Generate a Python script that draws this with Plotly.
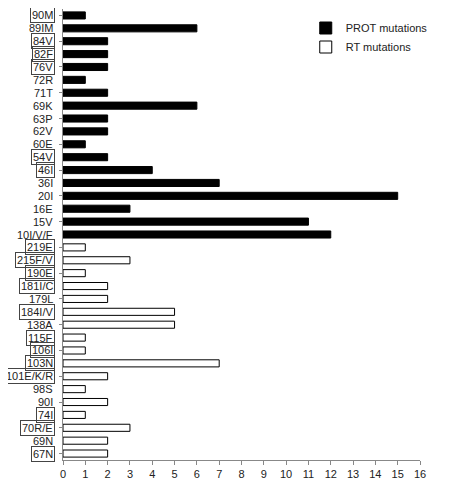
import plotly.graph_objects as go

cats = ["67N","69N","70R/E","74I","90I","98S","101E/K/R","103N","106I","115F","138A","184I/V","179L","181I/C","190E","215F/V","219E",
        "10I/V/F","15V","16E","20I","36I","46I","54V","60E","62V","63P","69K","71T","72R","76V","82F","84V","89IM","90M"]
rt_vals = [2,2,3,1,2,1,2,7,1,1,5,5,2,2,1,3,1]
prot_vals = [12,11,3,15,7,4,2,1,2,2,6,2,1,2,2,2,6,1]
boxed = {"90M","84V","82F","76V","54V","46I","219E","215F/V","190E","181I/C","184I/V","115F","106I","103N","101E/K/R","74I","70R/E","67N"}

rt_cats = cats[:17]
prot_cats = cats[17:]

fig = go.Figure()
fig.add_trace(go.Bar(y=prot_cats, x=prot_vals, orientation="h", name="PROT mutations",
                     marker=dict(color="black", line=dict(color="black", width=1)), width=0.55))
fig.add_trace(go.Bar(y=rt_cats, x=rt_vals, orientation="h", name="RT mutations",
                     marker=dict(color="white", line=dict(color="black", width=1)), width=0.55))

for c in cats:
    fig.add_annotation(x=-0.022, y=c, xref="paper", yref="y", text=c, showarrow=False, xanchor="right",
                       font=dict(size=11, color="#222"), bordercolor="#444" if c in boxed else "rgba(0,0,0,0)",
                       borderwidth=1, borderpad=1)
fig.add_annotation(x=16.1, y=1.2, xref="x", yref="y", text="Number of<br>viruses", showarrow=False,
                   xanchor="left", align="left", font=dict(size=11, color="#222"))

fig.update_layout(
    width=474, height=478, margin=dict(l=55, r=62, t=1, b=26),
    plot_bgcolor="white", paper_bgcolor="white", barmode="overlay",
    font=dict(family="Liberation Sans, Arial", size=11, color="#222"),
    legend=dict(x=0.68, y=0.99, xanchor="left", yanchor="top", font=dict(size=11), bgcolor="rgba(0,0,0,0)"),
    xaxis=dict(range=[0, 16], dtick=1, showgrid=False, showline=True, linecolor="#888", ticks="outside",
               ticklen=4, tickcolor="#888", tickfont=dict(size=11)),
    yaxis=dict(categoryorder="array", categoryarray=cats, range=[-0.5, 34.5], showticklabels=False,
               showgrid=False, showline=True, linecolor="#888", ticks="outside", ticklen=3, tickcolor="#888"),
    bargap=0.4,
)
fig.write_html("out.html")
